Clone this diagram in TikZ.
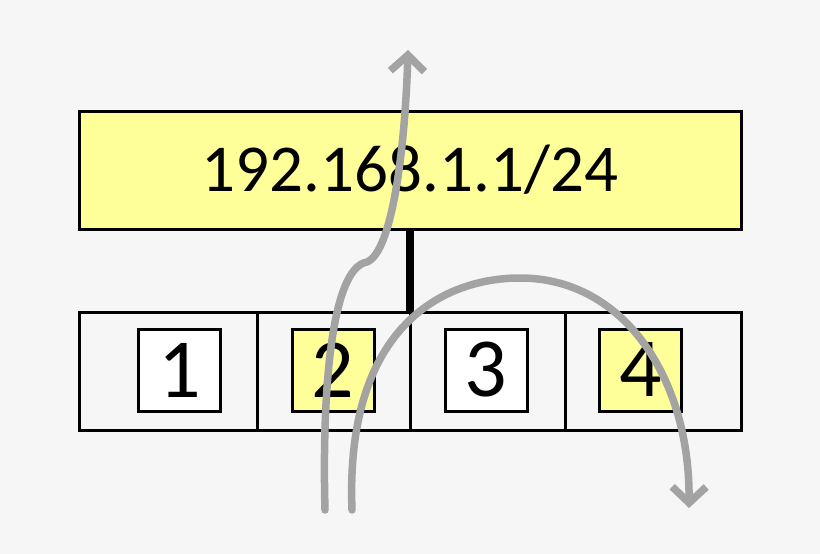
\documentclass[tikz,border=0pt]{standalone}
\usepackage{fontspec}
\setmainfont{Carlito}
\usetikzlibrary{arrows.meta}
\definecolor{bg}{HTML}{F6F6F6}
\definecolor{yel}{HTML}{FFFF99}
\definecolor{gr}{HTML}{A3A3A3}
\tikzset{
 boxline/.style={draw=black,line width=3pt},
 port/.style={boxline,minimum width=82pt,minimum height=82pt,inner sep=0pt,font=\fontsize{84}{86}\selectfont},
 flow/.style={draw=gr,line width=7.5pt,line cap=round,-{Straight Barb[length=16pt,width=34pt,line width=7.5pt]}}
}
\begin{document}
\begin{tikzpicture}[x=1pt,y=-1pt]
\fill[bg] (0,0) rectangle (820,554);
\useasboundingbox (0,0) rectangle (820,554);
\node[boxline,fill=yel,minimum width=662pt,minimum height=118pt,inner sep=0pt,font=\fontsize{67}{69}\selectfont] (ip) at (410,170) {192.168.1.1/24};
\node[boxline,fill=bg,minimum width=662pt,minimum height=118pt,inner sep=0pt] (sw) at (410,371) {};
\draw[boxline] (257,312) -- (257,430);
\draw[boxline] (410,312) -- (410,430);
\draw[boxline] (565,312) -- (565,430);
\draw[black,line width=8pt] (ip.south) -- (sw.north);
\node[port,fill=white] (p1) at (179.5,370) {1};
\node[port,fill=yel] (p2) at (333,370) {2};
\node[port,fill=white] (p3) at (486,370) {3};
\node[port,fill=yel] (p4) at (640.5,370) {4};
\coordinate (a1s) at (325,510);
\coordinate (a1m) at (367,262);
\coordinate (a1e) at (408,50);
\coordinate (a2s) at (352,510);
\coordinate (a2m) at (520,278);
\coordinate (a2e) at (689,508);
\draw[flow] (a1s) .. controls (322,400) and (330,268) .. (a1m) .. controls (392,252) and (405,150) .. (a1e);
\draw[flow] (a2s) .. controls (345,330) and (440,278) .. (a2m) .. controls (625,278) and (690,380) .. (a2e);
\end{tikzpicture}
\end{document}
